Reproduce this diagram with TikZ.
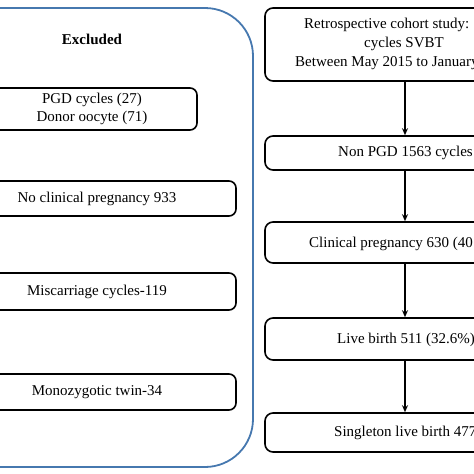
\documentclass[tikz,border=0pt]{standalone}
\usepackage{fontspec}
\setmainfont{Liberation Serif}
\usetikzlibrary{arrows.meta}
\definecolor{frameblue}{RGB}{70,120,175}
\tikzset{
  exbox/.style={draw=black, line width=1.6pt, rounded corners=7pt, inner sep=0pt},
  flowbox/.style={draw=black, line width=1.6pt, rounded corners=8pt, inner sep=0pt},
  txt/.style={font=\fontsize{15}{18}\selectfont, inner sep=0pt},
  arr/.style={line width=1.6pt, -{Stealth[length=7pt,width=6pt]}},
}
\begin{document}
\begin{tikzpicture}[x=1pt,y=-1pt]
\useasboundingbox (0,0) rectangle (474,474);
\clip (0,0) rectangle (474,474);
% big frame
\node[draw=frameblue, line width=1.8pt, rounded corners=48pt, minimum width=313pt, minimum height=459pt, inner sep=0pt] (frame) at (96.5,237.5) {};
\node[txt, font=\fontsize{15}{18}\selectfont\bfseries] (excl) at (92,39) {Excluded};
% left boxes
\node[exbox, minimum width=210pt, minimum height=42pt] (pgd) at (92,109) {};
\node[txt, align=center] (pgdt) at (92,109) {PGD cycles (27)\\Donor oocyte (71)};
\node[exbox, minimum width=278pt, minimum height=35pt] (ncp) at (97,198.5) {};
\node[txt] (ncpt) at (97,198.5) {No clinical pregnancy 933};
\node[exbox, minimum width=278pt, minimum height=37pt] (mis) at (97,291.5) {};
\node[txt] (mist) at (97,291.5) {Miscarriage cycles-119};
\node[exbox, minimum width=278pt, minimum height=36pt] (mono) at (97,392) {};
\node[txt] (monot) at (97,392) {Monozygotic twin-34};
% right boxes
\node[flowbox, minimum width=280pt, minimum height=73pt] (b1) at (405,44.5) {};
\node[txt, anchor=west] (b1a) at (304,25) {Retrospective cohort study:};
\node[txt, anchor=west] (b1b) at (364,44) {cycles SVBT};
\node[txt, anchor=west] (b1c) at (295,63) {Between May 2015 to January};
\node[flowbox, minimum width=280pt, minimum height=34pt] (b2) at (405,153) {};
\node[txt, anchor=west] (b2t) at (338,153) {Non PGD 1563 cycles};
\node[flowbox, minimum width=280pt, minimum height=41pt] (b3) at (405,242.5) {};
\node[txt, anchor=west] (b3t) at (309,244) {Clinical pregnancy 630 (40};
\node[flowbox, minimum width=280pt, minimum height=42pt] (b4) at (405,339) {};
\node[txt, anchor=west] (b4t) at (337,340) {Live birth 511 (32.6\%)};
\node[flowbox, minimum width=280pt, minimum height=39pt] (b5) at (405,432.5) {};
\node[txt, anchor=west] (b5t) at (334,433) {Singleton live birth 477};
% arrows
\draw[arr] (b1.south) -- (b2.north);
\draw[arr] (b2.south) -- (b3.north);
\draw[arr] (b3.south) -- (b4.north);
\draw[arr] (b4.south) -- (b5.north);
\end{tikzpicture}
\end{document}
